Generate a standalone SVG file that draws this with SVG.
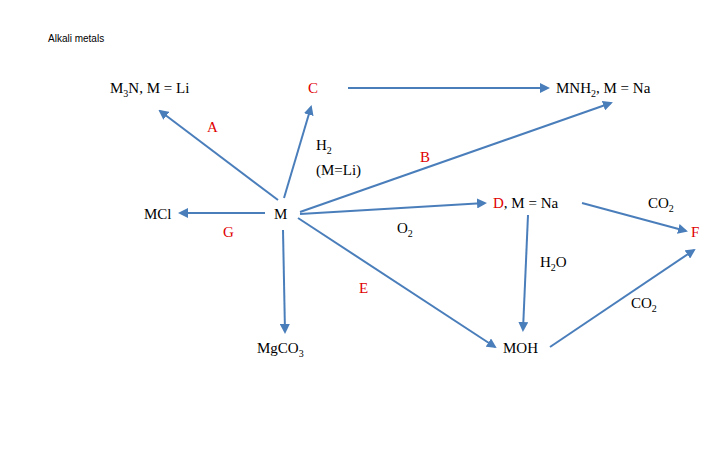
<svg xmlns="http://www.w3.org/2000/svg" width="713" height="452" viewBox="0 0 713 452">
<style>
text{font-family:"Liberation Serif",serif;font-size:15px;fill:#000}
.r{fill:#e00000}
.t{font-family:"Liberation Sans",sans-serif;font-size:10px}
.c line{stroke:#4a7ebb;stroke-width:2;marker-end:url(#a)}
</style>
<defs><marker id="a" viewBox="0 0 10 10" refX="8" refY="5" markerWidth="5" markerHeight="5" orient="auto"><path d="M0,0L10,5L0,10z" fill="#4a7ebb"/></marker></defs>
<rect width="713" height="452" fill="#fff"/>
<text class="t" x="48" y="42">Alkali metals</text>
<g class="c">
<line x1="278" y1="200" x2="160" y2="111"/>
<line x1="284" y1="198" x2="311" y2="107"/>
<line x1="348" y1="88" x2="548" y2="88"/>
<line x1="300" y1="212" x2="611" y2="103"/>
<line x1="300" y1="214" x2="485" y2="203"/>
<line x1="265" y1="213" x2="180" y2="213"/>
<line x1="283" y1="230" x2="285" y2="332"/>
<line x1="298" y1="218" x2="495" y2="347"/>
<line x1="582" y1="203" x2="686" y2="231"/>
<line x1="528" y1="215" x2="523" y2="330"/>
<line x1="550" y1="347" x2="694" y2="250"/>
</g>
<g id="M3N"><text x="110" y="93">M<tspan font-size="10" dy="4">3</tspan><tspan dy="-4">N, M = Li</tspan></text></g>
<g id="C"><text class="r" x="308" y="93">C</text></g>
<g id="MNH2"><text x="556" y="93">MNH<tspan font-size="10" dy="4">2</tspan><tspan dy="-4">, M = Na</tspan></text></g>
<g id="M"><text x="274" y="219">M</text></g>
<g id="MCl"><text x="144" y="219">MCl</text></g>
<g id="D"><text x="493" y="208"><tspan class="r">D</tspan>, M = Na</text></g>
<g id="F"><text class="r" x="691" y="237">F</text></g>
<g id="MgCO3"><text x="257" y="353">MgCO<tspan font-size="10" dy="4">3</tspan></text></g>
<g id="MOH"><text x="503" y="353">MOH</text></g>
<g id="labels">
<text class="r" x="207" y="132">A</text>
<text class="r" x="420" y="162">B</text>
<text class="r" x="223" y="237">G</text>
<text class="r" x="359" y="293">E</text>
<text x="316" y="150">H<tspan font-size="10" dy="4">2</tspan></text>
<text x="316" y="175">(M=Li)</text>
<text x="397" y="233">O<tspan font-size="10" dy="4">2</tspan></text>
<text x="540" y="267">H<tspan font-size="10" dy="4">2</tspan><tspan dy="-4">O</tspan></text>
<text x="648" y="208">CO<tspan font-size="10" dy="4">2</tspan></text>
<text x="631" y="308">CO<tspan font-size="10" dy="4">2</tspan></text>
</g>
</svg>
